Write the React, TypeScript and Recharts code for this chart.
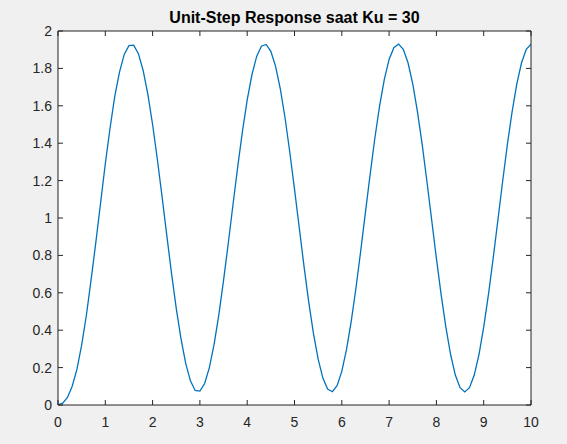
import React from 'react';
import { LineChart, Line, XAxis, YAxis, CartesianGrid } from 'recharts';

// sampled step response (t in seconds)
const times = [
  0, 0.1, 0.2, 0.3, 0.4, 0.5, 0.6, 0.7, 0.8, 0.9,
  1, 1.1, 1.2, 1.3, 1.4, 1.5, 1.6, 1.7, 1.8, 1.9,
  2, 2.1, 2.2, 2.3, 2.4, 2.5, 2.6, 2.7, 2.8, 2.9,
  3, 3.1, 3.2, 3.3, 3.4, 3.5, 3.6, 3.7, 3.8, 3.9,
  4, 4.1, 4.2, 4.3, 4.4, 4.5, 4.6, 4.7, 4.8, 4.9,
  5, 5.1, 5.2, 5.3, 5.4, 5.5, 5.6, 5.7, 5.8, 5.9,
  6, 6.1, 6.2, 6.3, 6.4, 6.5, 6.6, 6.7, 6.8, 6.9,
  7, 7.1, 7.2, 7.3, 7.4, 7.5, 7.6, 7.7, 7.8, 7.9,
  8, 8.1, 8.2, 8.3, 8.4, 8.5, 8.6, 8.7, 8.8, 8.9,
  9, 9.1, 9.2, 9.3, 9.4, 9.5, 9.6, 9.7, 9.8, 9.9,
  10,
];

const response = [
  0, 0.01, 0.04, 0.1, 0.19, 0.32, 0.48, 0.67, 0.87, 1.08,
  1.29, 1.48, 1.65, 1.78, 1.875, 1.922, 1.924, 1.879, 1.789, 1.661,
  1.5, 1.314, 1.114, 0.907, 0.704, 0.517, 0.355, 0.223, 0.129, 0.078,
  0.074, 0.115, 0.2, 0.324, 0.482, 0.666, 0.865, 1.072, 1.275, 1.465,
  1.632, 1.766, 1.864, 1.919, 1.928, 1.891, 1.811, 1.69, 1.536, 1.353,
  1.154, 0.949, 0.744, 0.553, 0.383, 0.245, 0.144, 0.085, 0.071, 0.103,
  0.18, 0.297, 0.449, 0.627, 0.824, 1.031, 1.235, 1.429, 1.601, 1.743,
  1.848, 1.911, 1.93, 1.902, 1.83, 1.717, 1.568, 1.392, 1.195, 0.99,
  0.784, 0.59, 0.416, 0.27, 0.16, 0.093, 0.07, 0.093, 0.16, 0.27,
  0.416, 0.59, 0.784, 0.989, 1.195, 1.392, 1.568, 1.717, 1.83, 1.902,
  1.93,
];

const xTicks = [0, 1, 2, 3, 4, 5, 6, 7, 8, 9, 10];
const yTicks = [0, 0.2, 0.4, 0.6, 0.8, 1, 1.2, 1.4, 1.6, 1.8, 2];

const data = times.map((t, i) => ({ t, y: response[i] }));

const AXIS = '#262626';
const FONT = '"Liberation Sans", Arial, sans-serif';

const BottomTick = ({ x, y, payload }: any) => (
  <g>
    <line x1={x} x2={x} y1={y} y2={y - 5} stroke={AXIS} />
    <text x={x} y={y + 21.5} textAnchor="middle" fill={AXIS} fontSize={14} fontFamily={FONT}>
      {payload.value}
    </text>
  </g>
);

const TopTick = ({ x, y }: any) => (
  <line x1={x} x2={x} y1={y} y2={y + 5} stroke={AXIS} />
);

const LeftTick = ({ x, y, payload }: any) => (
  <g>
    <line x1={x} x2={x + 5} y1={y} y2={y} stroke={AXIS} />
    <text x={x - 6} y={y + 5} textAnchor="end" fill={AXIS} fontSize={14} fontFamily={FONT}>
      {payload.value}
    </text>
  </g>
);

const RightTick = ({ x, y }: any) => (
  <line x1={x} x2={x - 5} y1={y} y2={y} stroke={AXIS} />
);

export default function App() {
  return (
    <div style={{ position: 'fixed', left: 0, top: 0, width: 567, height: 444, background: '#f0f0f0' }}>
      <LineChart
        width={567}
        height={444}
        data={data}
        margin={{ top: 0, right: 0, left: 0, bottom: 0 }}
        style={{ fontFamily: FONT }}
      >
        <rect x={58} y={31} width={473} height={374} fill="#ffffff" />
        <text
          x={294.5}
          y={23}
          textAnchor="middle"
          fontSize={16}
          fontWeight="bold"
          fill="#000000"
          fontFamily={FONT}
        >
          Unit-Step Response saat Ku = 30
        </text>
        <CartesianGrid stroke="#dfdfdf" strokeWidth={1} />
        <XAxis
          xAxisId="b"
          dataKey="t"
          type="number"
          domain={[0, 10]}
          ticks={xTicks}
          height={39}
          tickSize={0}
          tickMargin={0}
          tickLine={false}
          stroke={AXIS}
          tick={<BottomTick />}
          allowDataOverflow
        />
        <XAxis
          xAxisId="top"
          orientation="top"
          dataKey="t"
          type="number"
          domain={[0, 10]}
          ticks={xTicks}
          height={31}
          tickSize={0}
          tickMargin={0}
          tickLine={false}
          stroke={AXIS}
          tick={<TopTick />}
          allowDataOverflow
        />
        <YAxis
          yAxisId="l"
          type="number"
          domain={[0, 2]}
          ticks={yTicks}
          width={58}
          tickSize={0}
          tickMargin={0}
          tickLine={false}
          stroke={AXIS}
          tick={<LeftTick />}
          allowDataOverflow
        />
        <YAxis
          yAxisId="r"
          orientation="right"
          type="number"
          domain={[0, 2]}
          ticks={yTicks}
          width={36}
          tickSize={0}
          tickMargin={0}
          tickLine={false}
          stroke={AXIS}
          tick={<RightTick />}
          allowDataOverflow
        />
        <Line
          xAxisId="b"
          yAxisId="l"
          dataKey="y"
          type="linear"
          stroke="#0072bd"
          strokeWidth={1.3}
          dot={false}
          isAnimationActive={false}
        />
      </LineChart>
    </div>
  );
}
